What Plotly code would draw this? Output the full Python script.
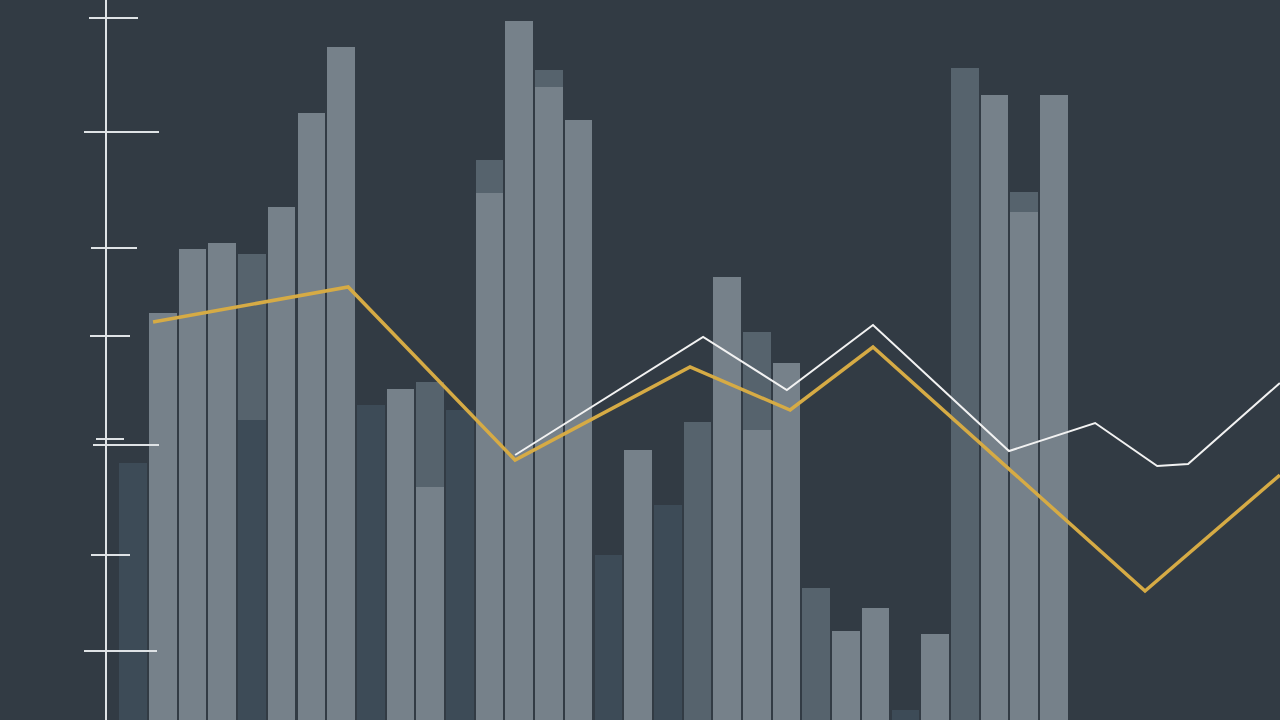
import plotly.graph_objects as go

# ---- data ----
slots = list(range(-1, 31))
# back "mid" bars (drawn first)
mid_vals = [None, None, None, None, 466, None, None, None, None, None, 338, None, 560, None, 650, None,
            None, None, None, 298, None, 388, None, 132, None, None, None, None, 652, None, 528, None]
# "dark" bars (drawn above mid)
dark_vals = [257, None, None, None, 300, None, None, None, 315, None, None, 310, None, None, None, None,
             165, None, 215, None, None, None, None, None, None, None, 10, None, None, None, None, None]
# front light bars
light_vals = [None, 407, 471, 477, None, 513, 607, 673, None, 331, 233, None, 527, 699, 633, 600,
              None, 270, None, None, 443, 290, 357, None, 89, 112, None, 86, None, 625, 508, 625]

yellow_x = [-0.33, 6.24, 11.86, 17.75, 21.12, 23.91, 33.07, 37.61]
yellow_y = [398, 433, 260, 353, 310, 373, 129, 245]
white_x = [11.86, 18.19, 21.01, 23.91, 28.49, 31.39, 33.48, 34.52, 37.61]
white_y = [265, 383, 330, 395, 269, 297, 254, 256, 337]

tick_vals = [702, 588, 472, 384, 281, 275, 165, 69]
tick_left = [89, 84, 91, 90, 96, 93, 91, 84]
tick_right = [138, 159, 137, 130, 124, 159, 130, 157]
axis_pos = 106

BG = "#323b44"
LIGHT = "#76818a"
MID = "#56636d"
DARK = "#3d4b57"

fig = go.Figure()
fig.add_trace(go.Bar(x=slots, y=mid_vals, width=0.93, marker=dict(color=MID, line=dict(width=0)),
                     hoverinfo="skip"))
fig.add_trace(go.Bar(x=slots, y=dark_vals, width=0.93, marker=dict(color=DARK, line=dict(width=0)),
                     hoverinfo="skip"))
fig.add_trace(go.Bar(x=slots, y=light_vals, width=0.93, marker=dict(color=LIGHT, line=dict(width=0)),
                     hoverinfo="skip"))
fig.add_trace(go.Scatter(x=white_x, y=white_y, mode="lines",
                         line=dict(color="#f2f2f2", width=2), hoverinfo="skip"))
fig.add_trace(go.Scatter(x=yellow_x, y=yellow_y, mode="lines",
                         line=dict(color="#d6ab45", width=3.5), hoverinfo="skip"))

# decorative axis on a pixel-scaled overlay axis
fig.add_trace(go.Scatter(x=[axis_pos, axis_pos], y=[0, 720], xaxis="x2", mode="lines",
                         line=dict(color="#dfe3e6", width=2), hoverinfo="skip"))
tx, ty = [], []
for v, l, r in zip(tick_vals, tick_left, tick_right):
    tx += [l, r, None]
    ty += [v, v, None]
fig.add_trace(go.Scatter(x=tx, y=ty, xaxis="x2", mode="lines",
                         line=dict(color="#dfe3e6", width=2), hoverinfo="skip"))

x0 = (0 - 162.85) / 29.7
x1 = (1280 - 162.85) / 29.7
fig.update_layout(
    width=1280, height=720, margin=dict(l=0, r=0, t=0, b=0),
    paper_bgcolor=BG, plot_bgcolor=BG, showlegend=False,
    barmode="overlay", bargap=0,
    xaxis=dict(range=[x0, x1], visible=False, fixedrange=True),
    xaxis2=dict(range=[0, 1280], overlaying="x", visible=False),
    yaxis=dict(range=[0, 720], visible=False),
)
fig.write_html(
    "out.html",
    config={"displayModeBar": False},
    post_script="document.body.style.margin='0';document.body.style.overflow='hidden';"
                "document.body.style.background='" + BG + "';",
)
